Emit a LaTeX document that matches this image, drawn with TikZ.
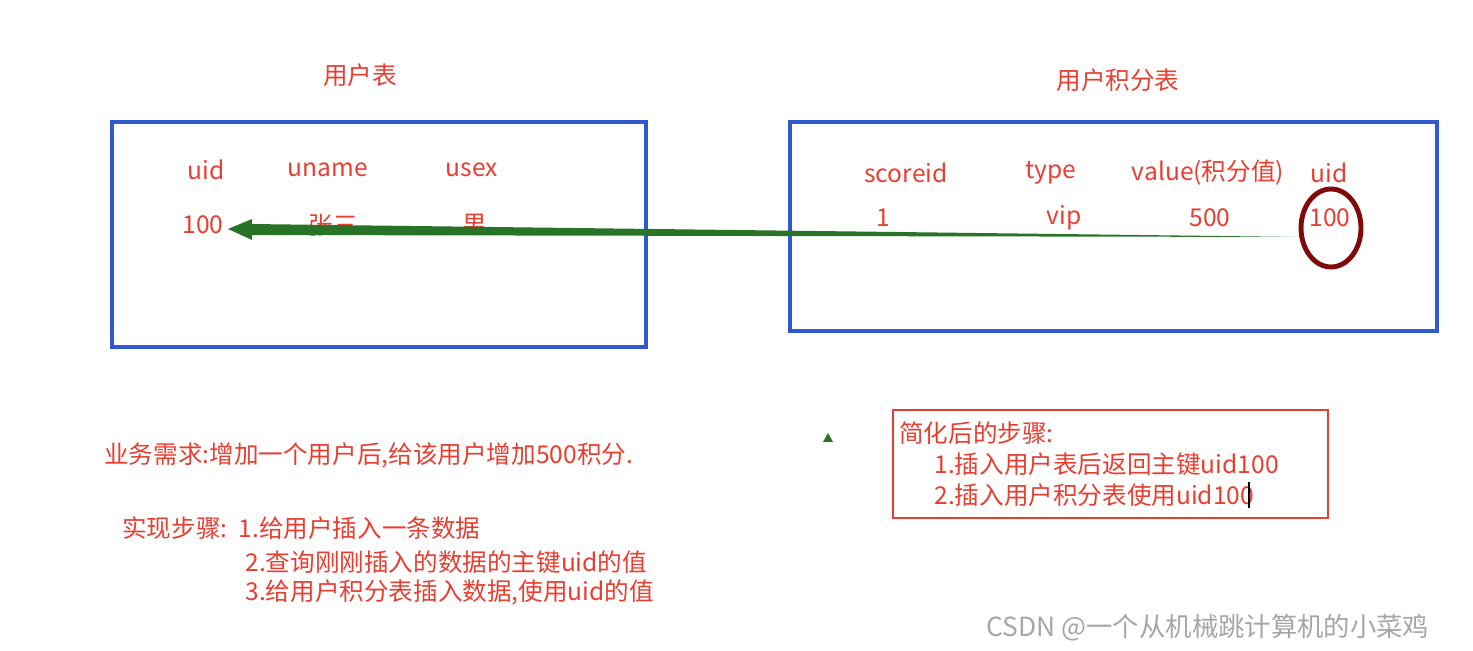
\documentclass[tikz,border=0pt]{standalone}
\usepackage{fontspec}
\setmainfont{Noto Sans CJK SC}
\usetikzlibrary{arrows.meta}
\definecolor{tred}{RGB}{232,62,48}
\definecolor{tblue}{RGB}{48,88,208}
\definecolor{tgreen}{RGB}{40,115,40}
\definecolor{dred}{RGB}{128,10,10}
\tikzset{t/.style={text=tred,font=\fontsize{14}{16}\selectfont,inner sep=0pt},
 box/.style={draw=tblue,line width=2.6pt}}
\begin{document}
\begin{tikzpicture}[x=0.02cm,y=-0.02cm]
\useasboundingbox (0,0) rectangle (1473,651);
\node[t] (t1) at (360,75) {用户表};
\draw[box] (112,122) rectangle (646,347);
\node[t] (h1) at (206,170) {uid};
\node[t] (h2) at (328,170) {uname};
\node[t] (h3) at (472,170) {usex};
\node[t] (r1) at (203,225) {100};
\node[t] (r2) at (333,225) {张三};
\node[t] (r3) at (475,225) {男};
\node[t] (t2) at (1118,80) {用户积分表};
\draw[box] (790,122) rectangle (1437,331);
\node[t] (g1) at (906,173) {scoreid};
\node[t] (g2) at (1051,173) {type};
\node[t] (g3) at (1208,173) {value(积分值)};
\node[t] (g4) at (1329,173) {uid};
\node[t] (s1) at (883,218) {1};
\node[t] (s2) at (1064,218) {vip};
\node[t] (s3) at (1210,218) {500};
\node[t] (s4) at (1330,218) {100};
\draw[dred,line width=2.8pt] (1331,228) ellipse [x radius=30,y radius=39];
\coordinate (a) at (1300,237);
\fill[tgreen] (a) -- (250,224) -- (250,235) -- cycle;
\fill[tgreen] (228,229) -- (252,219) -- (252,240) -- cycle;
\node[t,anchor=west] (b1) at (104,455) {业务需求:增加一个用户后,给该用户增加500积分.};
\node[t,anchor=west] (b2) at (122,528) {实现步骤:\ \ 1.给用户插入一条数据};
\node[t,anchor=west] (b3) at (245,562) {2.查询刚刚插入的数据的主键uid的值};
\node[t,anchor=west] (b4) at (245,592) {3.给用户积分表插入数据,使用uid的值};
\draw[tred,line width=1.2pt] (893,410) rectangle (1328,518);
\node[t,anchor=west] (c1) at (899,433) {简化后的步骤:};
\node[t,anchor=west] (c2) at (934,464) {1.插入用户表后返回主键uid100};
\node[t,anchor=west] (c3) at (934,495) {2.插入用户积分表使用uid100};
\draw[black,line width=0.6pt] (1249,482) -- (1249,508);
\fill[tgreen] (823,442) -- (833,442) -- (828,433) -- cycle;
\node[text=gray!70,font=\fontsize{15}{17}\selectfont,inner sep=0pt] (w) at (1208,628) {CSDN @一个从机械跳计算机的小菜鸡};
\end{tikzpicture}
\end{document}
